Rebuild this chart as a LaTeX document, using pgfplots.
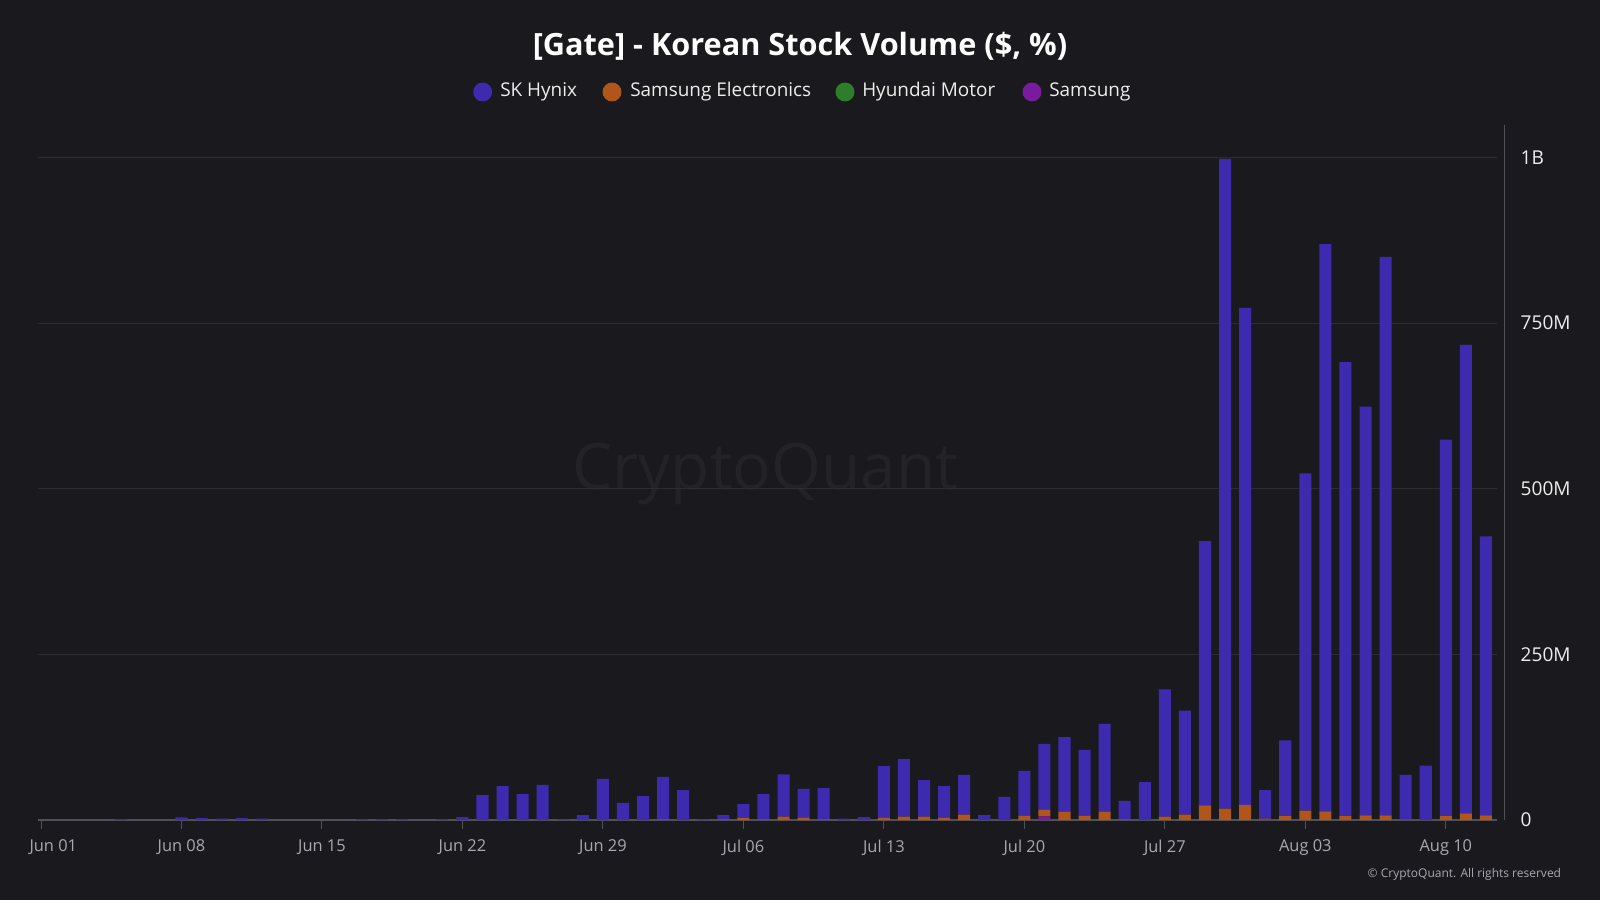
\documentclass[border=0pt]{standalone}
\usepackage{fontspec}
\setmainfont{Open Sans}
\usepackage{pgfplots}
\usepackage{pgfplotstable}
\pgfplotsset{compat=1.18}
\definecolor{bg}{HTML}{1A1A1E}
\definecolor{skh}{HTML}{3D2AAF}
\definecolor{sel}{HTML}{B0561A}
\definecolor{hyu}{HTML}{2E7D2A}
\definecolor{sam}{HTML}{7A1A9E}
\definecolor{gridc}{HTML}{2C2C32}
\definecolor{axisc}{HTML}{505058}
\definecolor{xlab}{HTML}{A8A8B0}
\definecolor{ylab}{HTML}{EDEDED}
\definecolor{wm}{HTML}{232327}

% d = days since Jun 01; values in millions of $
\pgfplotstableread{
d sam sel hyu skh
0 0 0 0 0
1 0 0 0 0
2 0 0 0 0
3 0 0 0 0
4 0 0 0 1.5
5 0 0 0 0
6 0 0 0 0
7 0 0 0 4
8 0 0 0 3
9 0 0 0 2
10 0 0 0 3
11 0 0 0 2
12 0 0 0 0
13 0 0 0 0
14 0 0 0 0
15 0 0 0 0
16 0 0 0 1.5
17 0 0 0 1.5
18 0 0 0 1.5
19 0 0 0 0
20 0 0 0 1.5
21 0 0 0 4.5
22 0 0 0 37.7
23 0 0 0 51
24 0 0 0 39
25 0 0 0 53
26 0 0 0 1
27 0 0 0 7.5
28 0 0 0 62
29 0 0 0 26
30 0 0 0 36
31 0.5 1 0 63.5
32 0 0 0 45
33 0 0 0 1
34 0.5 1 0 6
35 0 3 0 21
36 0.5 1 0 37.5
37 0 5 0 64
38 0 3.5 0 43.5
39 0.5 1 0 46.5
40 0 0 0 2
41 0 0 0 4.5
42 0 3.5 0 78
43 0 5 0 87
44 0 5 0 55
45 0 3.5 0 47.5
46 0 8 0 60
47 0 0 0 7.5
48 0 0 0 35
49 0 6.5 0 67.5
50 5.5 10 0 99.5
51 0 12.5 0 112.5
52 0 6.5 0 99.5
53 0 12.5 0 132.5
54 0.5 1 0 27.5
55 0 0 0 57
56 0 5 0 192
57 0 8 0 157
58 0 22 0 399
59 0 17 0 981
60 0 23 0 750
61 0.5 1.5 0 43
62 0 6 0 114
63 0 14 0 509
64 0 13 0 856
65 0 6 0 685
66 0 7 0 617
67 0 7 0 843
68 0.5 0.5 0 67
69 0 0 0 82
70 0 6 0 568
71 0 10 0 707
72 0 7 0 421
}\voldata

\begin{document}
\begin{tikzpicture}
\useasboundingbox (0,0) rectangle (1200pt,675pt);
\fill[bg] (0,0) rectangle (1200pt,675pt);
% watermark
\node[text=wm, font=\fontsize{48}{52}\selectfont] at (573.75pt,319.5pt) {CryptoQuant};
% title
\node[text=white, font=\fontsize{23}{27}\selectfont\bfseries] at (600pt,640pt) {[Gate] - Korean Stock Volume (\$, \%)};
% legend
\fill[skh] (362pt,606pt) circle (7.1pt);
\node[anchor=west, inner sep=0pt, text=ylab, font=\fontsize{14.2}{16}\selectfont] at (375pt,606pt) {SK Hynix};
\fill[sel] (459pt,606pt) circle (7.1pt);
\node[anchor=west, inner sep=0pt, text=ylab, font=\fontsize{14.2}{16}\selectfont] at (472.5pt,606pt) {Samsung Electronics};
\fill[hyu] (633.75pt,606pt) circle (7.1pt);
\node[anchor=west, inner sep=0pt, text=ylab, font=\fontsize{14.2}{16}\selectfont] at (646.5pt,606pt) {Hyundai Motor};
\fill[sam] (774pt,606pt) circle (7.1pt);
\node[anchor=west, inner sep=0pt, text=ylab, font=\fontsize{14.2}{16}\selectfont] at (786.75pt,606pt) {Samsung};
% copyright
\node[anchor=east, inner sep=0pt, text=xlab, font=\fontsize{9}{11}\selectfont] at (1171pt,19.5pt) {\textcopyright\ CryptoQuant. All rights reserved};

\begin{axis}[
  at={(28.5pt,60pt)}, anchor=south west,
  scale only axis, width=1094.25pt, height=521.25pt,
  xmin=-0.15, xmax=72.55, ymin=0, ymax=1049,
  axis x line*=bottom, axis y line*=right,
  x axis line style={draw=axisc, line width=0.75pt},
  y axis line style={draw=none},
  xtick={0,7,...,70},
  xticklabels={\hspace*{18.4pt}Jun 01,Jun 08,Jun 15,Jun 22,Jun 29,Jul 06,Jul 13,Jul 20,Jul 27,Aug 03,Aug 10},
  xtick style={draw=axisc, line width=0.75pt},
  tick align=outside, major tick length=6.75pt,
  xticklabel style={text=xlab, font=\fontsize{12.3}{14}\selectfont, yshift=-4.5pt},
  ytick={0,250,500,750,1000},
  yticklabels={0,250M,500M,750M,1B},
  ytick style={draw=none},
  yticklabel style={text=ylab, anchor=west, xshift=7.5pt, font=\fontsize{14.3}{16}\selectfont},
  ymajorgrids, grid style={draw=gridc, line width=0.75pt},
  ybar stacked, bar width=0.6,
  clip=false,
]
\addplot[fill=sam, draw=none] table[x=d, y=sam] {\voldata};
\addplot[fill=sel, draw=none] table[x=d, y=sel] {\voldata};
\addplot[fill=hyu, draw=none] table[x=d, y=hyu] {\voldata};
\addplot[fill=skh, draw=none] table[x=d, y=skh] {\voldata};
\draw[axisc, line width=0.75pt] ([xshift=6pt]rel axis cs:1,0) -- ([xshift=6pt]rel axis cs:1,1);
\end{axis}
\end{tikzpicture}
\end{document}
